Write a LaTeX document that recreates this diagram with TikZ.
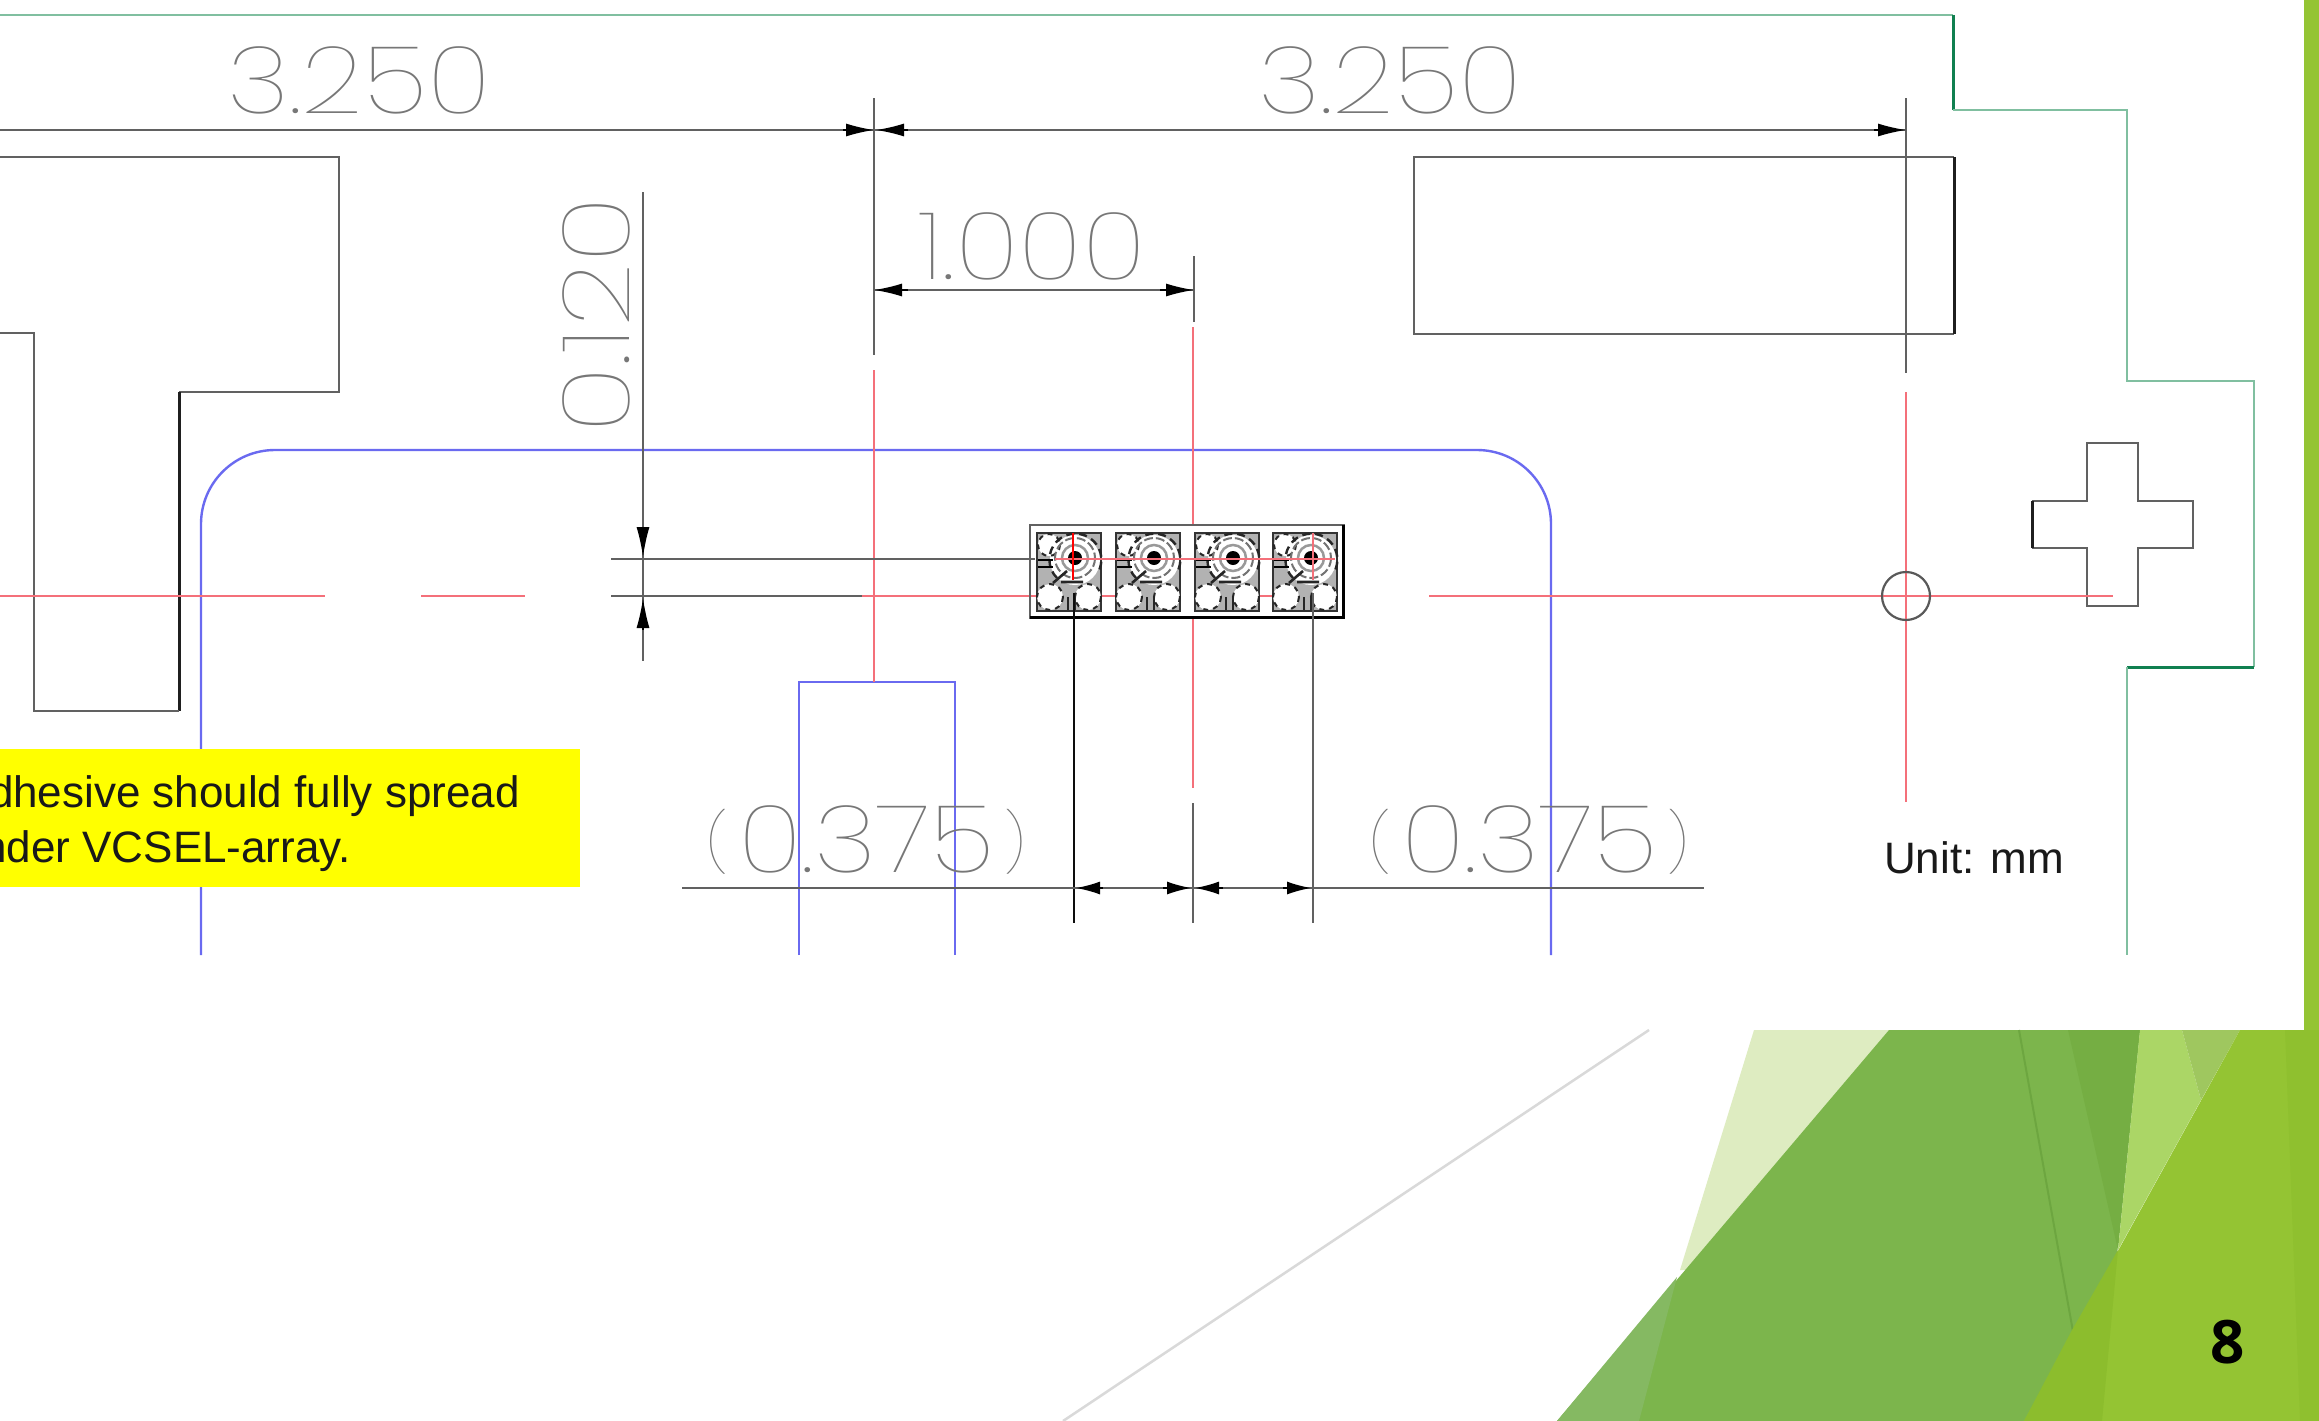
\documentclass[tikz,border=0pt]{standalone}
\usepackage{fontspec}
\usetikzlibrary{arrows.meta}
\setmainfont{Liberation Sans}
\newfontfamily\cadfont[FakeStretch=1.15]{Poppins Thin}
\newfontfamily\pagefont{Open Sans}
\newcommand{\cadparen}[1]{\hspace{9pt}\raisebox{9pt}{\fontsize{58}{58}\selectfont #1}\hspace{9pt}}
\definecolor{pale}{HTML}{DEECC1}
\definecolor{mainG}{HTML}{7CB54C}
\definecolor{lightG}{HTML}{85B962}
\definecolor{darkG}{HTML}{75AE43}
\definecolor{lineG}{HTML}{6DA640}
\definecolor{brightG}{HTML}{ABD666}
\definecolor{oliveG}{HTML}{9FC75F}
\definecolor{lime}{HTML}{94C433}
\definecolor{limeD}{HTML}{8CBD2D}
\definecolor{redL}{HTML}{F4707A}
\definecolor{blueL}{HTML}{6A6AF0}
\definecolor{greenL}{HTML}{80BFA0}
\definecolor{greenD}{HTML}{108050}
\definecolor{cadT}{HTML}{777777}
\definecolor{noteY}{HTML}{FFFF00}
\tikzset{
  cadline/.style={draw=black!62,line width=2.6pt},
  cadedge/.style={draw=black!88,line width=3pt},
  redline/.style={draw=redL,line width=2.4pt},
  blueline/.style={draw=blueL,line width=2.4pt},
  greenline/.style={draw=greenL,line width=2.8pt,line join=miter},
  greendark/.style={draw=greenD,line width=3pt},
  dimtip/.style={draw=black,line width=1.5pt,-{Latex[length=#1,width=13pt]}},
  dimtip/.default=26pt,
  cadtext/.style={text=cadT,font=\cadfont\fontsize{94}{94}\selectfont,inner sep=0pt},
  labeltext/.style={text=black!90,font=\fontsize{44}{50}\selectfont,inner sep=0pt},
}
\begin{document}
\begin{tikzpicture}[x=1pt,y=-1pt]
\useasboundingbox (0,0) rectangle (2319,1421);
\clip (0,0) rectangle (2319,1421);
\fill[white] (0,0) rectangle (2319,1421);
% decorative background, bottom right
\fill[lime] (2304,0) rectangle (2319,1030);
\draw[draw=black!15,line width=2.5pt] (1649,1030) -- (1063,1421);
\fill[pale] (1754,1030) -- (1895,1030) -- (1690,1270) -- (1680,1270) -- cycle;
\fill[mainG] (1889,1030) -- (2140,1030) -- (2100,1421) -- (1557,1421) -- cycle;
\fill[lightG] (1557,1421) -- (1677,1277) -- (1639,1421) -- cycle;
\fill[darkG] (2068,1030) -- (2140,1030) -- (2118,1250) -- cycle;
\draw[draw=lineG,line width=2pt] (2019,1030) -- (2089,1421);
\fill[brightG] (2140,1030) -- (2182,1030) -- (2201,1100) -- (2118,1250) -- cycle;
\fill[oliveG] (2182,1030) -- (2240,1030) -- (2201,1100) -- cycle;
\fill[lime] (2240,1030) -- (2319,1030) -- (2319,1421) -- (2024,1421) -- cycle;
\fill[limeD] (2072,1330) -- (2118,1250) -- (2102,1421) -- (2024,1421) -- cycle;
\fill[limeD!60!lime] (2285,1030) -- (2319,1030) -- (2319,1421) -- (2300,1421) -- cycle;
\node[font=\pagefont\bfseries\fontsize{60}{60}\selectfont,text=black,inner sep=0pt] (pagenum) at (2228,1342) {8};
% board outline
\draw[greenline] (0,15) -- (1953,15);
\draw[greendark] (1953,15) -- (1953,110);
\draw[greenline] (1953,110) -- (2127,110) -- (2127,381) -- (2254,381) -- (2254,667);
\draw[greendark] (2254,667) -- (2127,667);
\draw[greenline] (2127,667) -- (2127,955);
% blue outlines
\draw[blueline] (201,955) -- (201,524) arc[start angle=180,end angle=270,radius=74] -- (1477,450) arc[start angle=270,end angle=360,radius=74] -- (1551,955);
\draw[blueline] (799,955) -- (799,682) -- (955,682) -- (955,955);
% black parts
\draw[cadline] (0,157) -- (339,157) -- (339,392) -- (179,392);
\draw[cadedge] (179,392) -- (179,711);
\draw[cadline] (179,711) -- (34,711) -- (34,333) -- (0,333);
\draw[cadline] (1954,334) -- (1414,334) -- (1414,157) -- (1954,157);
\draw[cadedge] (1954,157) -- (1954,334);
\draw[cadline] (2032,501) -- (2087,501) -- (2087,443) -- (2138,443) -- (2138,501) -- (2193,501) -- (2193,548) -- (2138,548) -- (2138,606) -- (2087,606) -- (2087,548) -- (2032,548);
\draw[cadedge] (2032,501) -- (2032,548);
% red centre lines
\draw[redline] (0,596) -- (325,596) (421,596) -- (525,596) (862,596) -- (1128,596) (1233,596) -- (1330,596) (1429,596) -- (2113,596);
\draw[redline] (874,370) -- (874,682);
\draw[redline] (1193,327) -- (1193,525);
\draw[redline] (1193,617) -- (1193,788);
\draw[redline] (1906,392) -- (1906,802);
% top dimensions
\coordinate (dimL) at (0,130);
\coordinate (dimM) at (874,130);
\coordinate (dimR) at (1906,130);
\draw[cadline] (dimL) -- (dimR);
\draw[cadline] (874,98) -- (874,355);
\draw[cadline] (1906,98) -- (1906,373);
\draw[dimtip=28pt] (843,130) -- (dimM);
\draw[dimtip=28pt] (908,130) -- (876,130);
\draw[dimtip=28pt] (1874,130) -- (dimR);
\node[cadtext] (d1) at (359,80) {3.250};
\node[cadtext] (d2) at (1390,80) {3.250};
% 1.000 dimension
\coordinate (oneL) at (874,290);
\coordinate (oneR) at (1194,290);
\draw[cadline] (oneL) -- (oneR);
\draw[cadline] (1194,256) -- (1194,322);
\draw[dimtip=28pt] (908,290) -- (oneL);
\draw[dimtip=28pt] (1160,290) -- (oneR);
\node[cadtext] (d3) at (1032,246) {1.000};
% 0.120 dimension
\draw[cadline] (643,192) -- (643,661);
\draw[cadline] (611,559) -- (1035,559);
\draw[cadline] (611,596) -- (862,596);
\draw[dimtip=30pt] (643,527) -- (643,557);
\draw[dimtip=30pt] (643,630) -- (643,598);
\node[cadtext,rotate=90,xscale=1.05] (d4) at (596,315) {0.120};
% VCSEL array
\foreach \cx in {1037,1116,1195,1273}{
\begin{scope}[shift={(\cx,533)}]
  \fill[black!30] (0,0) rectangle (64,78);
  \draw[black!80,line width=2pt] (0,0) rectangle (64,78);
  \fill[white] (38,27) circle[radius=25];
  \fill[white] (12,12) circle[radius=11];
  \fill[white] (13,64) circle[radius=13];
  \fill[white] (51,64) circle[radius=13];
  \draw[black!85,line width=2pt,dash pattern=on 5pt off 5pt] (12,12) circle[radius=11] (13,64) circle[radius=13] (51,64) circle[radius=13];
  \draw[black!40,line width=2.5pt] (38,25) circle[radius=13];
  \draw[black!55,line width=2pt,dash pattern=on 9pt off 3pt] (38,25) circle[radius=20];
  \draw[black!85,line width=2.4pt,dash pattern=on 8pt off 5pt] (20,45) arc[start angle=135,end angle=390,radius=26];
  \draw[black!85,line width=2.6pt] (16,50) -- (30,38) (24,49) -- (46,49);
  \fill[black] (38,25) circle[radius=7];
  \draw[black,line width=2.2pt] (1,27) -- (16,27) (1,34) -- (16,34);
  \draw[black!85,line width=2.2pt] (31,64) -- (31,77) (38,64) -- (38,77);
\end{scope}
}
\node[draw=none,inner sep=0pt,minimum width=313pt,minimum height=92pt] (array) at (1186.5,571) {};
\draw[cadline] (array.north west) rectangle (array.south east);
\draw[draw=black,line width=3pt] (array.north east) -- (array.south east) -- (array.south west);
\draw[redline] (1055,559) -- (1335,559);
\draw[draw=red,line width=2.8pt] (1073,533) -- (1073,580);
\draw[redline] (1313,533) -- (1313,580);
% bottom dimension
\draw[draw=black!95,line width=2.8pt] (1074,593) -- (1074,923);
\draw[cadline] (1313,593) -- (1313,923);
\draw[cadline] (1193,803) -- (1193,923);
\draw[cadline] (682,888) -- (1704,888);
\draw[dimtip=24pt] (1103,888) -- (1076,888);
\draw[dimtip=24pt] (1163,888) -- (1191,888);
\draw[dimtip=24pt] (1223,888) -- (1195,888);
\draw[dimtip=24pt] (1283,888) -- (1311,888);
\node[cadtext] (d5) at (862,840) {\cadparen{(}0.375\cadparen{)}};
\node[cadtext] (d6) at (1525,840) {\cadparen{(}0.375\cadparen{)}};
% pin circle and crosshair
\draw[draw=black!65,line width=2.2pt] (1906,596) circle[radius=24];
% note
\fill[noteY] (0,749) rectangle (580,887);
\node[labeltext,anchor=base east] (n1) at (520,807) {dhesive should fully spread};
\node[labeltext,anchor=base east] (n2) at (351,862) {nder VCSEL-array.};
\node[labeltext,anchor=base west] (unit) at (1884,873) {Unit: mm};
\end{tikzpicture}
\end{document}
